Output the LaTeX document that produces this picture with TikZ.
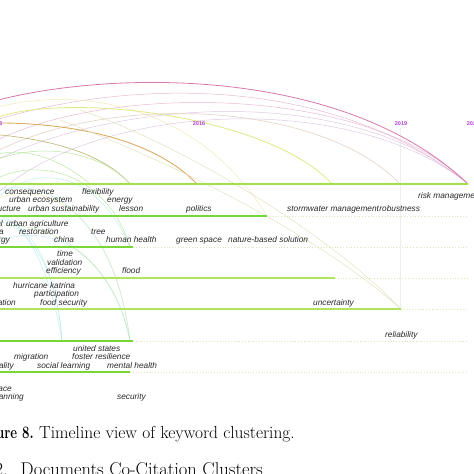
\documentclass[tikz,border=0pt]{standalone}
\usepackage{fontspec}
\newfontfamily\lab{Liberation Sans}
\definecolor{yearc}{RGB}{175,60,215}
\definecolor{tlA}{RGB}{160,225,70}
\definecolor{tlB}{RGB}{120,215,55}
\definecolor{tlC}{RGB}{175,228,95}
\definecolor{extc}{RGB}{214,234,180}
\definecolor{pinkA}{RGB}{214,120,170}
\definecolor{pinkB}{RGB}{235,185,212}
\definecolor{lilac}{RGB}{222,200,230}
\definecolor{yelA}{RGB}{222,234,130}
\definecolor{yelB}{RGB}{242,234,180}
\definecolor{orng}{RGB}{220,172,100}
\definecolor{olive}{RGB}{195,185,125}
\definecolor{beige}{RGB}{230,214,204}
\definecolor{cyanA}{RGB}{175,230,234}
\definecolor{grnA}{RGB}{185,232,160}
\definecolor{pale}{RGB}{228,225,192}
\definecolor{grid}{RGB}{238,238,238}
\definecolor{kwtext}{RGB}{40,40,40}
\tikzset{
  kw/.style={font=\lab\itshape\fontsize{8.3}{9}\selectfont, text=kwtext, inner sep=0pt, anchor=mid west},
  yr/.style={font=\lab\bfseries\fontsize{5.5}{6}\selectfont, text=yearc, inner sep=0pt, anchor=mid},
  tl/.style={line width=2pt, draw=tlA},
  ext/.style={dotted, line width=0.8pt, draw=extc},
  arcl/.style={line width=0.5pt},
}
\begin{document}
\begin{tikzpicture}[x=1pt,y=-1pt]
\useasboundingbox (0,0) rectangle (474,474);
\clip (0,0) rectangle (474,474);

% anchor points of clusters / nodes
\coordinate (R) at (468,184);
\coordinate (U) at (401,309);
\coordinate (A1) at (332,184);
\coordinate (A2) at (400,184);
\coordinate (A3) at (197,184);
\coordinate (A4) at (130,184);
\coordinate (A5) at (267,216);
\coordinate (C3) at (130,247);
\coordinate (C6a) at (62,341);
\coordinate (C6b) at (130,341);

% grid line 2019
\draw[grid, line width=0.6pt] (400,128) -- (400,310);

% ---- arcs ----
\coordinate (s1) at (-20,105);
\coordinate (s2) at (-20,150);
\coordinate (s3) at (-20,168);
\coordinate (s4) at (-10,200);
\coordinate (s5) at (-20,125);
\draw[pinkB, arcl] (s2) .. controls (80,85) and (360,78) .. (R);
\draw[lilac, arcl] (s3) .. controls (110,98) and (350,82) .. (R);
\draw[lilac, arcl] (s4) .. controls (90,102) and (350,88) .. (R);
\draw[pinkB, arcl] (s5) .. controls (120,78) and (330,72) .. (R);
\draw[pinkA, line width=0.8pt] (s1) .. controls (95,70) and (340,62) .. (R);

\coordinate (y1) at (-10,120);
\coordinate (y2) at (-20,112);
\draw[yelB, arcl] (y2) .. controls (60,86) and (190,92) .. (A5);
\draw[yelA, line width=0.8pt] (y1) .. controls (60,90) and (270,115) .. (A1);

\coordinate (b1) at (-20,160);
\draw[beige, line width=0.7pt] (b1) .. controls (100,90) and (320,100) .. (A2);

\coordinate (o1) at (-10,123);
\coordinate (o2) at (-10,134);
\draw[orng, line width=0.9pt] (o1) .. controls (60,122) and (150,135) .. (A3);
\draw[olive, line width=0.7pt] (o2) .. controls (40,138) and (100,150) .. (A4);

\coordinate (u1) at (60,120);
\coordinate (u2) at (80,110);
\draw[pale, arcl] (u1) .. controls (140,150) and (300,220) .. (U);
\draw[pale, arcl] (u2) .. controls (170,140) and (320,225) .. (U);

% green / cyan arcs lower left
\coordinate (g1) at (-40,184);
\coordinate (g2) at (-30,170);
\coordinate (g3) at (-40,216);
\coordinate (g4) at (-50,247);
\draw[grnA, arcl] (g1) .. controls (0,140) and (90,140) .. (A4);
\draw[grnA, arcl] (g2) .. controls (0,140) and (50,150) .. (90,184);
\draw[grnA, arcl] (g3) .. controls (-10,150) and (100,150) .. (C3);
\draw[yelB, arcl] (g4) .. controls (-10,160) and (110,170) .. (C6b);

\coordinate (c1) at (-60,309);
\coordinate (c2) at (-50,278);
\coordinate (c3) at (-40,247);
\coordinate (c4) at (-30,216);
\coordinate (c5) at (-70,341);
\begin{scope}[opacity=0.75]
\draw[cyanA, arcl] (c1) .. controls (-40,180) and (50,190) .. (C6a);
\draw[cyanA, arcl] (c2) .. controls (-20,170) and (40,210) .. (C6a);
\draw[cyanA, arcl] (c3) .. controls (-10,190) and (55,230) .. (C6a);
\draw[cyanA, arcl] (c4) .. controls (0,160) and (110,180) .. (C6b);
\draw[cyanA, arcl] (c5) .. controls (-40,200) and (100,200) .. (C6b);
\draw[cyanA, arcl] (c2) .. controls (-10,150) and (90,150) .. (C3);
\draw[grnA, arcl] (c3) .. controls (0,200) and (110,230) .. (C6b);
\end{scope}

% ---- timelines ----
\coordinate (L1s) at (-5,184);  \coordinate (L1e) at (468,184);
\coordinate (L2s) at (-5,216);  \coordinate (L2e) at (267,216);  \coordinate (L2x) at (468,216);
\coordinate (L3s) at (-5,247);  \coordinate (L3e) at (133,247);  \coordinate (L3x) at (468,247);
\coordinate (L4s) at (-5,278);  \coordinate (L4e) at (335,278);  \coordinate (L4x) at (468,278);
\coordinate (L5s) at (-5,309);  \coordinate (L5e) at (401,309);  \coordinate (L5x) at (468,309);
\coordinate (L6s) at (-5,341);  \coordinate (L6e) at (133,341);  \coordinate (L6x) at (468,341);
\coordinate (L7s) at (-5,372);  \coordinate (L7e) at (130,372);  \coordinate (L7x) at (468,372);

\draw[ext] (L2e) -- (L2x);
\draw[ext] (L3e) -- (L3x);
\draw[ext] (L4e) -- (L4x);
\draw[ext] (L5e) -- (L5x);
\draw[ext] (L6e) -- (L6x);
\draw[ext] (L7e) -- (L7x);

\draw[tl] (L1s) -- (L1e);
\draw[tl, draw=tlB] (L2s) -- (L2e);
\draw[tl, draw=tlB] (L3s) -- (L3e);
\draw[tl, draw=tlC] (L4s) -- (L4e);
\draw[tl, draw=tlC] (L5s) -- (L5e);
\draw[tl, draw=tlB] (L6s) -- (L6e);
\draw[tl, draw=tlB, line width=1.3pt] (L7s) -- (L7e);

% ---- years ----
\node[yr] (y2013) at (-4,123) {2013};
\node[yr] (y2016) at (199,123) {2016};
\node[yr] (y2019) at (401,123) {2019};
\node[yr] (y2020) at (473,123) {2020};

% ---- keywords ----
\node[kw] (k1) at (5,192) {consequence};
\node[kw] (k2) at (82,192) {flexibility};
\node[kw] (k3) at (9,200) {urban ecosystem};
\node[kw] (k4) at (107,200) {energy};
\node[kw, anchor=mid east] (k5) at (21,209) {green infrastructure};
\node[kw] (k6) at (28,209) {urban sustainability};
\node[kw] (k7) at (119,209) {lesson};
\node[kw] (k8) at (186,209) {politics};
\node[kw] (k9) at (287,209) {stormwater management};
\node[kw] (k10) at (k9.mid east) {robustness};
\node[kw] (k11) at (418,196) {risk management};

\node[kw, anchor=mid east] (k12) at (3,224) {rural};
\node[kw] (k13) at (6,224) {urban agriculture};
\node[kw, anchor=mid east] (k14) at (4,232) {urban area};
\node[kw] (k15) at (19,232) {restoration};
\node[kw] (k16) at (91,232) {tree};
\node[kw, anchor=mid east] (k17) at (10,240) {green energy};
\node[kw] (k18) at (54,240) {china};
\node[kw] (k19) at (106,240) {human health};
\node[kw] (k20) at (176,240) {green space};
\node[kw] (k21) at (228,240) {nature-based solution};

\node[kw] (k22) at (57,254) {time};
\node[kw] (k23) at (47,263) {validation};
\node[kw] (k24) at (46,271) {efficiency};
\node[kw] (k25) at (122,271) {flood};

\node[kw] (k26) at (13,286) {hurricane katrina};
\node[kw] (k27) at (34,294) {participation};
\node[kw, anchor=mid east] (k28) at (16,303) {adaptation};
\node[kw] (k29) at (40,303) {food security};
\node[kw] (k30) at (313,303) {uncertainty};

\node[kw] (k31) at (385,335) {reliability};

\node[kw] (k32) at (73,349) {united states};
\node[kw] (k33) at (14,357) {migration};
\node[kw] (k34) at (72,357) {foster resilience};
\node[kw, anchor=mid east] (k35) at (14,366) {mortality};
\node[kw] (k36) at (37,366) {social learning};
\node[kw] (k37) at (107,366) {mental health};

\node[kw, anchor=mid east] (k38) at (12,389) {public space};
\node[kw, anchor=mid east] (k39) at (24,397) {urban planning};
\node[kw] (k40) at (117,397) {security};

% ---- caption ----
\node[anchor=base east, inner sep=0pt, font=\fontsize{17.4}{20}\selectfont\bfseries] (figno) at (34,438) {\scalebox{0.76}[1]{Figure 8.}};
\node[anchor=base west, inner sep=0pt, font=\fontsize{17.4}{20}\selectfont] (cap) at (39,438) {Timeline view of keyword clustering.};
\node[anchor=base east, inner sep=0pt, font=\fontsize{18.5}{21}\selectfont] (secno) at (8,475) {4.2.};
\node[anchor=base east, inner sep=0pt, font=\fontsize{18.5}{21}\selectfont] (sec) at (263,475) {Documents Co-Citation Clusters};
\end{tikzpicture}
\end{document}
